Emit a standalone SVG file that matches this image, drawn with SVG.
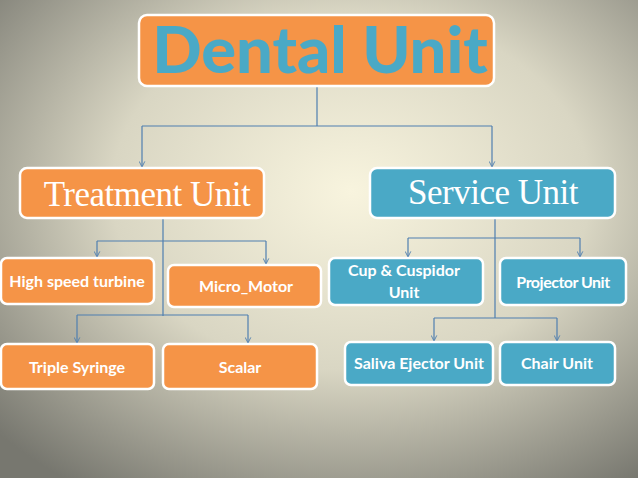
<svg xmlns="http://www.w3.org/2000/svg" width="638" height="478" viewBox="0 0 638 478">
<defs>
<radialGradient id="bg" cx="0.55" cy="0.4" r="0.75">
<stop offset="0" stop-color="#f8f4de"/>
<stop offset="0.5" stop-color="#d9d6c3"/>
<stop offset="1" stop-color="#77776f"/>
</radialGradient>
<marker id="ar" viewBox="0 0 10 10" refX="9" refY="5" markerWidth="7" markerHeight="7" orient="auto" markerUnits="userSpaceOnUse">
<path d="M1,1 L9,5 L1,9" fill="none" stroke="#4f7fb0" stroke-width="1.3"/>
</marker>
<style>
.o{fill:#f59447;stroke:#fff;stroke-width:2.5}
.b{fill:#4aa9c6;stroke:#fff;stroke-width:2.5}
.t{fill:#fff;font-family:Lato,"Open Sans",sans-serif;font-weight:bold;font-size:16px;text-anchor:middle}
.s{fill:#fff;font-family:"Liberation Serif",serif;font-size:35px;text-anchor:middle;letter-spacing:-0.5px}
.c{fill:none;stroke:#4f7fb0;stroke-width:1.2}
</style>
</defs>
<rect width="638" height="478" fill="url(#bg)"/>
<g id="connectors">
<path class="c" d="M317,86V126M142,126H492"/>
<path class="c" d="M142,126V167" marker-end="url(#ar)"/>
<path class="c" d="M492,126V167" marker-end="url(#ar)"/>
<path class="c" d="M163,218V316M97,241H266M77,315H248"/>
<path class="c" d="M97,241V257" marker-end="url(#ar)"/>
<path class="c" d="M266,241V264" marker-end="url(#ar)"/>
<path class="c" d="M77,315V343" marker-end="url(#ar)"/>
<path class="c" d="M248,315V343" marker-end="url(#ar)"/>
<path class="c" d="M495,218V318M408,238H580M434,318H557"/>
<path class="c" d="M408,238V257" marker-end="url(#ar)"/>
<path class="c" d="M580,238V257" marker-end="url(#ar)"/>
<path class="c" d="M434,318V341" marker-end="url(#ar)"/>
<path class="c" d="M557,318V341" marker-end="url(#ar)"/>
</g>
<g id="dental"><rect class="o" x="139" y="15" width="355" height="71" rx="8"/><text x="320" y="73" fill="#4aa9c6" font-family="Lato,sans-serif" font-weight="900" font-size="65" text-anchor="middle">Dental Unit</text></g>
<g id="treatment"><rect class="o" x="20" y="168" width="244" height="50" rx="7"/><text class="s" x="147" y="206">Treatment Unit</text></g>
<g id="service"><rect class="b" x="370" y="168" width="245" height="50" rx="7"/><text class="s" x="493" y="204">Service Unit</text></g>
<g id="hst"><rect class="o" x="1" y="258" width="153" height="46" rx="6"/><text class="t" x="77" y="287">High speed turbine</text></g>
<g id="micro"><rect class="o" x="168" y="265" width="153" height="42" rx="6"/><text class="t" x="246" y="292">Micro_Motor</text></g>
<g id="triple"><rect class="o" x="1" y="344" width="153" height="45" rx="6"/><text class="t" x="77" y="373">Triple Syringe</text></g>
<g id="scalar"><rect class="o" x="163" y="344" width="154" height="45" rx="6"/><text class="t" x="240" y="373">Scalar</text></g>
<g id="cup"><rect class="b" x="329" y="258" width="154" height="47" rx="6"/><text class="t" x="404" y="276">Cup &amp; Cuspidor</text><text class="t" x="404" y="298">Unit</text></g>
<g id="projector"><rect class="b" x="500" y="258" width="126" height="47" rx="6"/><text class="t" x="563" y="288" letter-spacing="-0.5">Projector Unit</text></g>
<g id="saliva"><rect class="b" x="345" y="342" width="148" height="43" rx="6"/><text class="t" x="419" y="369" font-size="15">Saliva Ejector Unit</text></g>
<g id="chair"><rect class="b" x="500" y="342" width="115" height="43" rx="6"/><text class="t" x="557" y="369">Chair Unit</text></g>
</svg>
